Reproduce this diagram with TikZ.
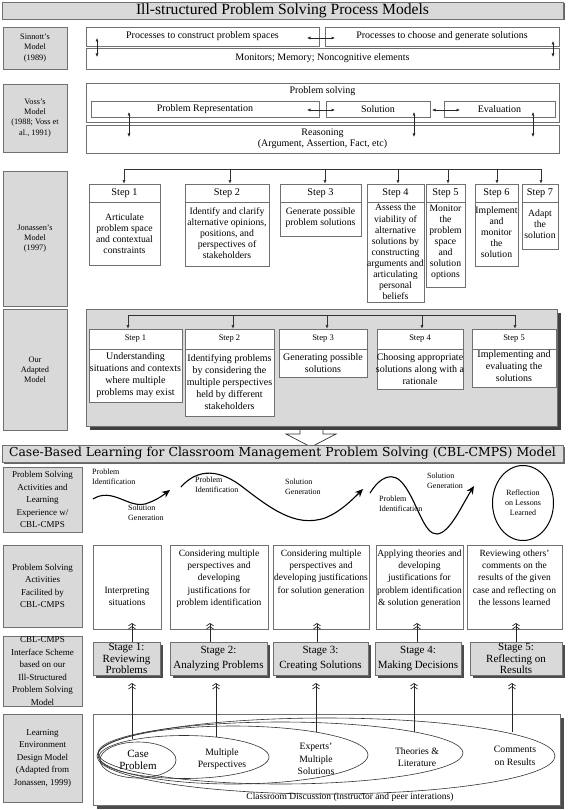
\documentclass[tikz,border=0pt]{standalone}
\usepackage{fontspec}
\setmainfont{Liberation Serif}
\newfontfamily\ttlfont{DejaVu Serif}
\usetikzlibrary{arrows.meta,shadows,shapes.geometric,calc}
\definecolor{lgray}{HTML}{D9D9D9}
\definecolor{edge}{HTML}{707070}
\newcommand\fs[2]{\fontsize{#1}{#2}\selectfont}
% \bx[box style]{name}{x1}{y1}{x2}{y2}{text style}{text}
\newcommand\bx[8][]{\path ({(#3+#5)/2},{(#4+#6)/2}) node[rectangle,inner sep=0pt,minimum width={(#5-#3)*1pt},minimum height={(#6-#4)*1pt},#1] (#2) {} node[inner sep=0pt,align=center,#7] {#8};}
\tikzset{
  wbox/.style={draw=edge,fill=white,line width=0.6pt},
  lab/.style={draw=edge,fill=lgray,line width=0.6pt,drop shadow={shadow xshift=1pt,shadow yshift=-1pt,fill=black!55,opacity=1}},
  tbox/.style={draw=edge,fill=lgray,line width=0.6pt,drop shadow={shadow xshift=1.5pt,shadow yshift=-1.5pt,fill=black!60,opacity=1}},
  gbox/.style={draw=edge,fill=lgray,line width=0.6pt,drop shadow={shadow xshift=4pt,shadow yshift=-4pt,fill=black!75,opacity=1}},
  sbox/.style={draw=edge,fill=white,line width=0.6pt,drop shadow={shadow xshift=4pt,shadow yshift=-4pt,fill=black!70,opacity=1}},
  stg/.style={draw=edge,fill=lgray,line width=0.6pt,drop shadow={shadow xshift=3pt,shadow yshift=-3pt,fill=black!70,opacity=1}},
  labt/.style={font=\fs{8.3}{10.2}},
  labu/.style={font=\fs{9}{12.5}},
  st/.style={font=\fs{10}{11}},
  jh/.style={font=\fs{10.3}{12}},
  jb/.style={font=\fs{9.7}{11.1}},
  ah/.style={font=\fs{8.5}{10}},
  ab/.style={font=\fs{10}{12}},
  cv/.style={font=\fs{8}{10},align=left,inner sep=0pt},
  bt/.style={font=\fs{9.5}{12.2},align=center,inner sep=0pt},
  sgt/.style={font=\fs{11}{11.5}},
  elt/.style={font=\fs{9.7}{12.5},align=center,inner sep=0pt},
  dbl/.style={{Latex[length=3.5pt,width=3pt]}-{Latex[length=3.5pt,width=3pt]},line width=0.6pt,black!85},
  dn/.style={-{Latex[length=3.5pt,width=3pt]},line width=0.6pt,black!80},
  chev/.style={-{Straight Barb[length=2.4pt,width=7pt,line width=0.7pt]Straight Barb[length=2.4pt,width=7pt,line width=0.7pt]},line width=0.8pt,black!85},
  wave/.style={-{Stealth[length=8pt,width=7pt]},line width=1.1pt},
}
\begin{document}
\begin{tikzpicture}[x=1pt,y=-1pt]
\useasboundingbox (0,0) rectangle (567,810);
\fill[white] (0,0) rectangle (567,810);

% ---------- Title 1
\bx[tbox]{t1}{2}{2}{563}{19}{font=\fs{15.6}{16}}{Ill-structured Problem Solving Process Models}

% ---------- Left labels (upper)
\bx[lab]{lsin}{3}{27}{67}{69}{labt}{Sinnott’s\\Model\\(1989)}
\bx[lab]{lvos}{3}{84}{67}{152}{labt}{Voss’s\\Model\\(1988; Voss et\\al., 1991)}
\bx[lab]{ljon}{3}{171}{67}{306}{labt}{Jonassen’s\\Model\\(1997)}
\bx[lab]{lada}{3}{309}{67}{430}{labt}{Our\\Adapted\\Model}

% ---------- Sinnott
\bx[wbox]{sa}{86}{27}{319}{46}{st}{Processes to construct problem spaces}
\bx[wbox]{sb}{325}{27}{559}{46}{st}{Processes to choose and generate solutions}
\bx[wbox]{sc}{86}{48}{559}{69}{st}{Monitors; Memory; Noncognitive elements}
\coordinate (sh1) at (307,38); \coordinate (sh2) at (335,38);
\coordinate (sv1) at (97,38);  \coordinate (sv2) at (97,57);
\coordinate (sv3) at (553,41); \coordinate (sv4) at (553,57);
\draw[dbl] (sh1) -- (sh2);
\draw[dbl] (sv1) -- (sv2);
\draw[dbl] (sv3) -- (sv4);

% ---------- Voss
\bx[wbox]{vps}{86}{83}{559}{122}{st}{}
\node[st,inner sep=0pt] (vpst) at (322.5,91) {Problem solving};
\bx[wbox]{vpr}{91}{101}{319}{117}{st}{Problem Representation}
\bx[wbox]{vso}{326}{101}{430}{117}{st}{Solution}
\bx[wbox]{vev}{444}{101}{555}{117}{st}{Evaluation}
\bx[wbox]{vre}{86}{125}{559}{153}{st}{Reasoning\\(Argument, Assertion, Fact, etc)}
\coordinate (vh1) at (307,110); \coordinate (vh2) at (335,110);
\coordinate (vh3) at (432,110); \coordinate (vh4) at (460,110);
\coordinate (vv1) at (129,112); \coordinate (vv2) at (129,137);
\coordinate (vv3) at (414,112); \coordinate (vv4) at (414,137);
\coordinate (vv5) at (533,112); \coordinate (vv6) at (533,137);
\draw[dbl] (vh1) -- (vh2);
\draw[dbl] (vh3) -- (vh4);
\draw[dbl] (vv1) -- (vv2);
\draw[dbl] (vv3) -- (vv4);
\draw[dbl] (vv5) -- (vv6);

% ---------- Jonassen
\bx[wbox]{j1h}{89}{184}{160}{202}{jh}{Step 1}
\bx[wbox]{j1}{89}{202}{160}{265}{jb}{Articulate\\problem space\\and contextual\\constraints}
\bx[wbox]{j2h}{185}{184}{269}{202}{jh}{Step 2}
\bx[wbox]{j2}{185}{202}{269}{266}{jb,yshift=1pt}{Identify and clarify\\alternative opinions,\\positions, and\\perspectives of\\stakeholders}
\bx[wbox]{j3h}{280}{184}{361}{202}{jh}{Step 3}
\bx[wbox]{j3}{280}{202}{361}{236}{jb,yshift=1pt}{Generate possible\\problem solutions}
\bx[wbox]{j4h}{367}{184}{424}{202}{jh}{Step 4}
\bx[wbox]{j4}{367}{202}{424}{302}{jb}{Assess the\\viability of\\alternative\\solutions by\\constructing\\arguments and\\articulating\\personal\\beliefs}
\bx[wbox]{j5h}{426}{184}{465}{202}{jh}{Step 5}
\bx[wbox]{j5}{426}{202}{465}{287}{jb,yshift=2pt}{Monitor\\the\\problem\\space\\and\\solution\\options}
\bx[wbox]{j6h}{475}{184}{518}{202}{jh}{Step 6}
\bx[wbox]{j6}{475}{202}{518}{266}{jb,yshift=2pt}{Implement\\and\\monitor\\the\\solution}
\bx[wbox]{j7h}{522}{184}{558}{202}{jh}{Step 7}
\bx[wbox]{j7}{522}{202}{558}{249}{jb,yshift=1pt}{Adapt\\the\\solution}
\coordinate (jt1) at (124,169); \coordinate (jt2) at (230,169);
\coordinate (jt3) at (325,169); \coordinate (jt4) at (398,169);
\coordinate (jt5) at (448,169); \coordinate (jt6) at (497,169);
\coordinate (jt7) at (541,169);
\draw[line width=0.6pt,black!80] (jt1) -- (jt7);
\foreach \i in {1,...,7} \draw[dn] (jt\i) -- (jt\i |- j\i h.north);

% ---------- big hollow arrow (drawn before the box so the box covers its top)
\draw[fill=white,draw=black!80,line width=0.7pt] (300,420) -- (300,434) -- (286,434) -- (311,447) -- (336,434) -- (323,434) -- (323,420);

% ---------- Adapted model
\bx[gbox]{abg}{86}{309}{557}{426}{st}{}
\bx[wbox]{a1h}{89}{329}{182}{349}{ah}{Step 1}
\bx[wbox]{a1}{89}{349}{182}{402}{ab}{Understanding\\situations and contexts\\where multiple\\problems may exist}
\bx[wbox]{a2h}{185}{329}{274}{349}{ah}{Step 2}
\bx[wbox]{a2}{185}{349}{274}{416}{ab}{Identifying problems\\by considering the\\multiple perspectives\\held by different\\stakeholders}
\bx[wbox]{a3h}{279}{329}{367}{349}{ah}{Step 3}
\bx[wbox]{a3}{279}{349}{367}{377}{ab}{Generating possible\\solutions}
\bx[wbox]{a4h}{377}{329}{463}{349}{ah}{Step 4}
\bx[wbox]{a4}{377}{349}{463}{389}{ab}{Choosing appropriate\\solutions along with a\\rationale}
\bx[wbox]{a5h}{472}{329}{556}{349}{ah}{Step 5}
\bx[wbox]{a5}{472}{349}{556}{387}{ab,yshift=2pt}{Implementing and\\evaluating the\\solutions}
\coordinate (at1) at (128,315); \coordinate (at2) at (233,315);
\coordinate (at3) at (327,315); \coordinate (at4) at (422,315);
\coordinate (at5) at (515,315);
\draw[line width=0.6pt,black!80] (at1) -- (at5);
\foreach \i in {1,...,5} \draw[dn] (at\i) -- (at\i |- a\i h.north);

% ---------- Title 2
\bx[tbox]{t2}{2}{445}{563}{462}{font=\ttlfont\fs{12.4}{14}}{Case-Based Learning for Classroom Management Problem Solving (CBL-CMPS) Model}

% ---------- lower labels
\bx[lab]{l1}{3}{467}{82}{532}{labu}{Problem Solving\\Activities and\\Learning\\Experience w/\\CBL-CMPS}
\bx[lab]{l2}{3}{545}{82}{627}{labu}{Problem Solving\\Activities\\Facilited by\\CBL-CMPS}
\bx[lab]{l3}{3}{636}{82}{706}{labu}{CBL-CMPS\\Interface Scheme\\based on our\\Ill-Structured\\Problem Solving\\Model}
\bx[lab]{l4}{3}{714}{82}{802}{labu}{Learning\\Environment\\Design Model\\(Adapted from\\Jonassen, 1999)}

% ---------- waves
\draw[wave] (93,499) .. controls (112,487) and (128,508) .. (145,504) .. controls (155,501) and (162,496) .. (170,490);
\draw[wave] (181,487) .. controls (195,471) and (215,467) .. (240,485) .. controls (270,508) and (295,528) .. (325,518) .. controls (340,512) and (352,500) .. (363,489);
\draw[wave] (370,493) .. controls (380,477) and (393,470) .. (404,485) .. controls (417,502) and (424,535) .. (437,534) .. controls (450,533) and (462,505) .. (474,486);
\node[cv,anchor=north west] (w1a) at (92,469) {Problem\\Identification};
\node[cv,anchor=north west] (w1b) at (128,505) {Solution\\Generation};
\node[cv,anchor=north west] (w2a) at (195,477) {Problem\\Identification};
\node[cv,anchor=north west] (w2b) at (285,479) {Solution\\Generation};
\node[cv,anchor=north west] (w3a) at (379,496) {Problem\\Identification};
\node[cv,anchor=north west] (w3b) at (427,473) {Solution\\Generation};
\node[ellipse,draw,line width=1pt,minimum width=61pt,minimum height=75pt,inner sep=0pt,align=center,font=\fs{8}{10}] (refl) at (523,503) {Reflection\\on Lessons\\Learned};

% ---------- activity boxes
\bx[wbox]{b1}{93}{545}{161}{629}{bt}{}
\bx[wbox]{b2}{170}{545}{268}{629}{bt}{}
\bx[wbox]{b3}{273}{545}{369}{629}{bt}{}
\bx[wbox]{b4}{376}{545}{463}{629}{bt}{}
\bx[wbox]{b5}{467}{545}{562}{629}{bt}{}
\node[bt] (b1t) at (127,596) {Interpreting\\situations};
\node[bt,anchor=north] (b2t) at ([yshift=-5pt]b2.north) {Considering multiple\\perspectives and\\developing\\justifications for\\problem identification};
\node[bt,anchor=north] (b3t) at ([yshift=-5pt]b3.north) {Considering multiple\\perspectives and\\developing justifications\\for solution generation};
\node[bt,anchor=north] (b4t) at ([yshift=-5pt]b4.north) {Applying theories and\\developing\\justifications for\\problem identification\\\& solution generation};
\node[bt,anchor=north] (b5t) at ([yshift=-5pt]b5.north) {Reviewing others’\\comments on the\\results of the given\\case and reflecting on\\the lessons learned};

% ---------- stage boxes
\bx[stg]{g1}{93}{642}{160}{675}{sgt}{Stage 1:\\Reviewing\\Problems}
\bx[stg]{g2}{170}{642}{267}{675}{sgt}{Stage 2:\\[3pt]Analyzing Problems}
\bx[stg]{g3}{273}{642}{368}{675}{sgt}{Stage 3:\\[3pt]Creating Solutions}
\bx[stg]{g4}{375}{642}{461}{675}{sgt}{Stage 4:\\[3pt]Making Decisions}
\bx[stg]{g5}{470}{642}{562}{675}{sgt}{Stage 5:\\Reflecting on\\Results}

\coordinate (u1) at (132,623); \coordinate (u2) at (210,623);
\coordinate (u3) at (317,623); \coordinate (u4) at (417,623);
\coordinate (u5) at (516,623);
\foreach \i in {1,...,5} \draw[chev] (u\i |- g\i.north) -- (u\i);

% ---------- bottom environment
\bx[sbox]{bot}{93}{714}{560}{805}{bt}{}
\node[ellipse,draw=black!80,line width=0.6pt,minimum width=458pt,minimum height=76pt,inner sep=0pt] (e5) at (326,756) {};
\node[ellipse,draw=black!80,line width=0.6pt,minimum width=365pt,minimum height=62pt,inner sep=0pt] (e4) at (280.5,753) {};
\node[ellipse,draw=black!80,line width=0.6pt,minimum width=270pt,minimum height=58pt,inner sep=0pt] (e3) at (233,755) {};
\node[ellipse,draw=black!80,line width=0.6pt,minimum width=170pt,minimum height=43pt,inner sep=0pt] (e2) at (184,757) {};
\node[ellipse,draw=black!80,line width=0.6pt,minimum width=76pt,minimum height=36pt,inner sep=0pt] (e1) at (138,760) {};
\node[elt,font=\fs{11}{12.5}] (e1t) at (138,760) {Case\\Problem};
\node[elt] (e2t) at (222,759) {Multiple\\Perspectives};
\node[elt] (e3t) at (316,759) {Experts’\\Multiple\\Solutions};
\node[elt] (e4t) at (417,757) {Theories \&\\Literature};
\node[elt] (e5t) at (515,756) {Comments\\on Results};
\node[elt,font=\fs{9.5}{11}] (cd) at (350,797) {Classroom Discussion (instructor and peer interations)};

\coordinate (d1) at (132,739); \coordinate (d2) at (216,737);
\coordinate (d3) at (316,732); \coordinate (d4) at (414,732);
\coordinate (d5) at (512,732);
\coordinate (h1) at (132,683); \coordinate (h2) at (216,683);
\coordinate (h3) at (316,683); \coordinate (h4) at (414,683);
\coordinate (h5) at (512,683);
\foreach \i in {1,...,5} \draw[chev] (d\i) -- (h\i);
\end{tikzpicture}
\end{document}
